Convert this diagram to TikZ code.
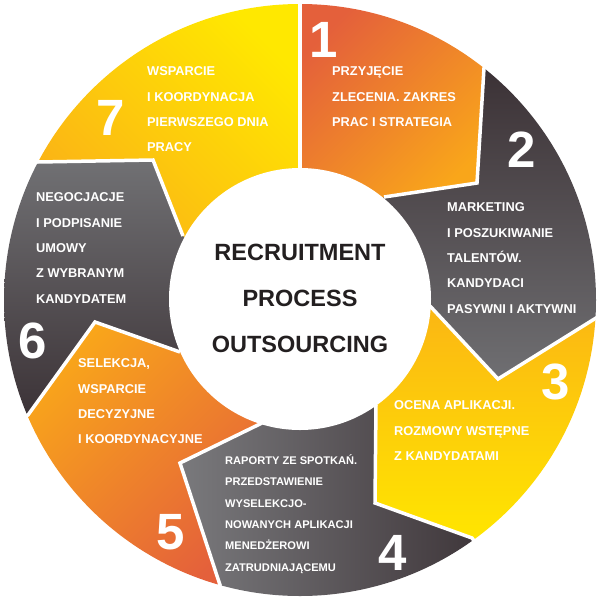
\documentclass[tikz,border=0pt]{standalone}
\usepackage{fontspec}
\setmainfont{Liberation Sans}
\usetikzlibrary{calc}
\definecolor{cOneA}{HTML}{E4603B}
\definecolor{cOneB}{HTML}{F9A61A}
\definecolor{cTwoA}{HTML}{3B3135}
\definecolor{cTwoB}{HTML}{707073}
\definecolor{cThreeA}{HTML}{FBB514}
\definecolor{cThreeB}{HTML}{FFE600}
\definecolor{cFourA}{HTML}{7A7A7D}
\definecolor{cFourB}{HTML}{3B3236}
\definecolor{cFiveA}{HTML}{F9A61A}
\definecolor{cFiveB}{HTML}{E4603B}
\definecolor{cSixA}{HTML}{717174}
\definecolor{cSixB}{HTML}{3B3236}
\definecolor{cSevenA}{HTML}{FFE800}
\definecolor{cSevenB}{HTML}{FBB316}
\definecolor{hubtext}{HTML}{231F20}
\tikzset{
  lbl/.style={anchor=north west, inner sep=0pt, align=left, text=white,
    font=\bfseries\fontsize{12.8}{25.3}\selectfont},
  lblsmall/.style={anchor=north west, inner sep=0pt, align=left, text=white,
    font=\bfseries\fontsize{11.1}{21.4}\selectfont},
  num/.style={inner sep=0pt, text=white, font=\bfseries\fontsize{51}{51}\selectfont},
  sep/.style={draw=white, line width=3.5pt, line join=miter},
  hubstyle/.style={circle, fill=white, inner sep=0pt, minimum size=262pt},
  hubtxt/.style={anchor=north, inner sep=0pt, align=center, text=hubtext,
    font=\bfseries\fontsize{23.5}{46}\selectfont}
}
\begin{document}
\begin{tikzpicture}[x=1pt,y=-1pt]
\useasboundingbox (0,0) rectangle (600,600);
\coordinate (C) at (300,300);
% boundaries: inner A, kink K, outer O, far E
\coordinate (A1) at (300,168); \coordinate (K1) at (300,90);  \coordinate (O1) at (300,4);
\coordinate (A2) at (384,197); \coordinate (K2) at (477,183); \coordinate (O2) at (484,68);
\coordinate (A3) at (430,306); \coordinate (K3) at (498,379); \coordinate (O3) at (596,318);
\coordinate (A4) at (376,405); \coordinate (K4) at (375,503); \coordinate (O4) at (472,538);
\coordinate (A5) at (262,423); \coordinate (K5) at (180,463); \coordinate (O5) at (220,585);
\coordinate (A6) at (180,352); \coordinate (K6) at (95,322);  \coordinate (O6) at (28,415);
\coordinate (A7) at (183,236); \coordinate (K7) at (153,160); \coordinate (O7) at (38,162);
\foreach \i in {1,...,7}{
  \coordinate (E\i) at ($(C)!1.5!(O\i)$);
  \coordinate (F\i) at ($(C)!1.06!(O\i)$);
}
% segments
\begin{scope}
\clip (C) circle (296pt);
\begin{scope}
\clip (A1) -- (K1) -- (O1) -- (E1) -- (E2) -- (O2) -- (K2) -- (A2) -- (C) -- cycle;
\shade[top color=cOneA, bottom color=cOneB, shading angle=45] (298,2) rectangle (490,200);
\end{scope}
\begin{scope}
\clip (A2) -- (K2) -- (O2) -- (E2) -- (E3) -- (O3) -- (K3) -- (A3) -- (C) -- cycle;
\shade[top color=cTwoA, bottom color=cTwoB] (380,65) rectangle (598,385);
\end{scope}
\begin{scope}
\clip (A3) -- (K3) -- (O3) -- (E3) -- (E4) -- (O4) -- (K4) -- (A4) -- (C) -- cycle;
\shade[top color=cThreeA, bottom color=cThreeB] (372,300) rectangle (598,542);
\end{scope}
\begin{scope}
\clip (A4) -- (K4) -- (O4) -- (E4) -- (E5) -- (O5) -- (K5) -- (A5) -- (C) -- cycle;
\shade[left color=cFourA, right color=cFourB] (178,378) rectangle (500,598);
\end{scope}
\begin{scope}
\clip (A5) -- (K5) -- (O5) -- (E5) -- (E6) -- (O6) -- (K6) -- (A6) -- (C) -- cycle;
\shade[top color=cFiveA, bottom color=cFiveB, shading angle=45] (25,320) rectangle (265,590);
\end{scope}
\begin{scope}
\clip (A6) -- (K6) -- (O6) -- (E6) -- (E7) -- (O7) -- (K7) -- (A7) -- (C) -- cycle;
\shade[top color=cSixA, bottom color=cSixB] (2,158) rectangle (185,420);
\end{scope}
\begin{scope}
\clip (A7) -- (K7) -- (O7) -- (E7) -- (E1) -- (O1) -- (K1) -- (A1) -- (C) -- cycle;
\shade[top color=cSevenA, bottom color=cSevenB, shading angle=-45] (35,2) rectangle (302,240);
\end{scope}
\end{scope}
% separators
\foreach \i in {1,...,7}{
  \draw[sep] (A\i) -- (K\i) -- (O\i) -- (F\i);
}
% hub
\node[hubstyle] (hub) at (300,299) {};
\node[hubtxt] (hubtext) at (300,236.9) {\rule{0pt}{23.5pt}RECRUITMENT\\PROCESS\\OUTSOURCING};
% numbers
\node[num] (n1) at (324,40) {1};
\node[num] (n2) at (522,150) {2};
\node[num] (n3) at (556,382) {3};
\node[num] (n4) at (393,553) {4};
\node[num] (n5) at (171,532) {5};
\node[num] (n6) at (33,341) {6};
\node[num] (n7) at (111,118) {7};
% labels
\node[lbl] (t1) at (332,62.8) {\rule{0pt}{12.8pt}PRZYJĘCIE\\ZLECENIA. ZAKRES\\PRAC I STRATEGIA};
\node[lbl] (t2) at (447,198.8) {\rule{0pt}{12.8pt}MARKETING\\I POSZUKIWANIE\\TALENTÓW.\\KANDYDACI\\PASYWNI I AKTYWNI};
\node[lbl] (t3) at (394,396.8) {\rule{0pt}{12.8pt}OCENA APLIKACJI.\\ROZMOWY WSTĘPNE\\Z KANDYDATAMI};
\node[lblsmall] (t4) at (225,452.9) {\rule{0pt}{11.1pt}RAPORTY ZE SPOTKAŃ.\\PRZEDSTAWIENIE\\WYSELEKCJO-\\NOWANYCH APLIKACJI\\MENEDŻEROWI\\ZATRUDNIAJĄCEMU};
\node[lbl] (t5) at (78,354.8) {\rule{0pt}{12.8pt}SELEKCJA,\\WSPARCIE\\DECYZYJNE\\I KOORDYNACYJNE};
\node[lbl] (t6) at (36,188.8) {\rule{0pt}{12.8pt}NEGOCJACJE\\I PODPISANIE\\UMOWY\\Z WYBRANYM\\KANDYDATEM};
\node[lbl] (t7) at (147,62.8) {\rule{0pt}{12.8pt}WSPARCIE\\I KOORDYNACJA\\PIERWSZEGO DNIA\\PRACY};
\end{tikzpicture}
\end{document}
